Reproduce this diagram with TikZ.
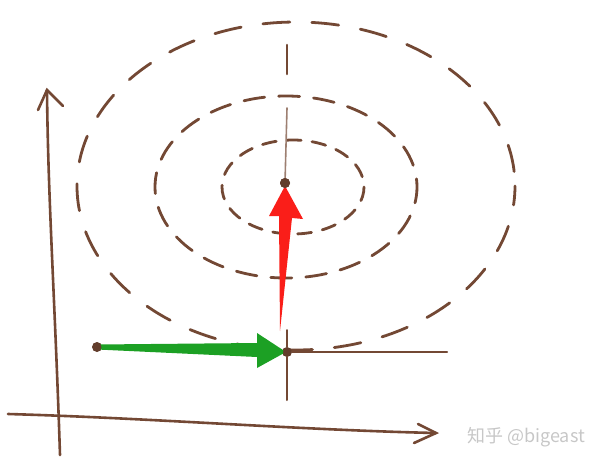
\documentclass[tikz,border=0pt]{standalone}
\usepackage{fontspec}
\newfontfamily\cjk{Noto Sans CJK SC}
\usetikzlibrary{calc}
\definecolor{ink}{RGB}{115,72,52}
\definecolor{gr}{RGB}{28,160,36}
\definecolor{rd}{RGB}{250,30,25}
\tikzset{
  pen/.style={draw=ink,line width=2.6pt,line cap=round},
  dashpen/.style={pen,line width=2.8pt,dash pattern=on 20pt off 18pt},
  dot/.style={circle,fill=ink!85!black,inner sep=0pt,minimum size=10pt},
  wm/.style={text=black!22,font=\cjk\fontsize{18}{18}\selectfont}
}
\begin{document}
\begin{tikzpicture}[x=1pt,y=-1pt]
\useasboundingbox (0,0) rectangle (600,464);
% axes
\coordinate (yb) at (60,455);
\coordinate (yt) at (47,90);
\coordinate (xl) at (8,414);
\coordinate (xr) at (436,433);
\draw[pen] (yb) .. controls (55,300) and (48,200) .. (yt);
\draw[pen] (38,110) -- (yt) -- (63,106);
\draw[pen] (xl) .. controls (150,418) and (300,430) .. (xr);
\draw[pen] (418,424) -- (xr) -- (414,443);
% ellipses
\draw[dashpen,dash pattern=on 14pt off 11pt] (293,187) ellipse [x radius=71,y radius=47];
\draw[dashpen,dash pattern=on 21pt off 14pt,dash phase=5pt] (286,187) ellipse [x radius=131,y radius=91];
\draw[dashpen,dash pattern=on 27pt off 22pt,dash phase=8pt] (296,186) ellipse [x radius=219,y radius=164];
% nodes
\node[dot] (A) at (97,347) {};
\node[dot] (B) at (287,352) {};
\node[dot] (C) at (285,183) {};
\coordinate (Bend) at (447,352);
\coordinate (Vb) at (287,400);
\coordinate (Vt) at (287,45);
% guide lines
\draw[pen,line width=2.2pt] (B) -- (Bend);
\draw[pen,line width=2pt] (B) -- (Vb);
\draw[pen,line width=2pt] (287,330) -- (B);
\draw[pen,line width=1.6pt,draw=ink!70] (C) -- (287,108);
\draw[pen,line width=2.6pt] (Vt) -- (287,74);
% green arrow
\fill[gr] ($(A)+(0,-2.5)$) -- (257,343) -- (257,333) -- ($(B)+(-1,0)$) -- (257,368) -- (257,357) -- ($(A)+(0,2.5)$) -- cycle;
% red arrow
\fill[rd] (280,331) -- (279,216) -- (269,216) -- ($(C)+(0,3)$) -- (303,219) -- (292,218) -- cycle;
\node[dot] at (C) {};
\node[dot,minimum size=8pt] at (B) {};
\node[dot,minimum size=9pt] at (A) {};
% watermark
\node[wm,anchor=west,inner sep=0pt] (wm) at (467,437) {知乎 @bigeast};
\end{tikzpicture}
\end{document}
